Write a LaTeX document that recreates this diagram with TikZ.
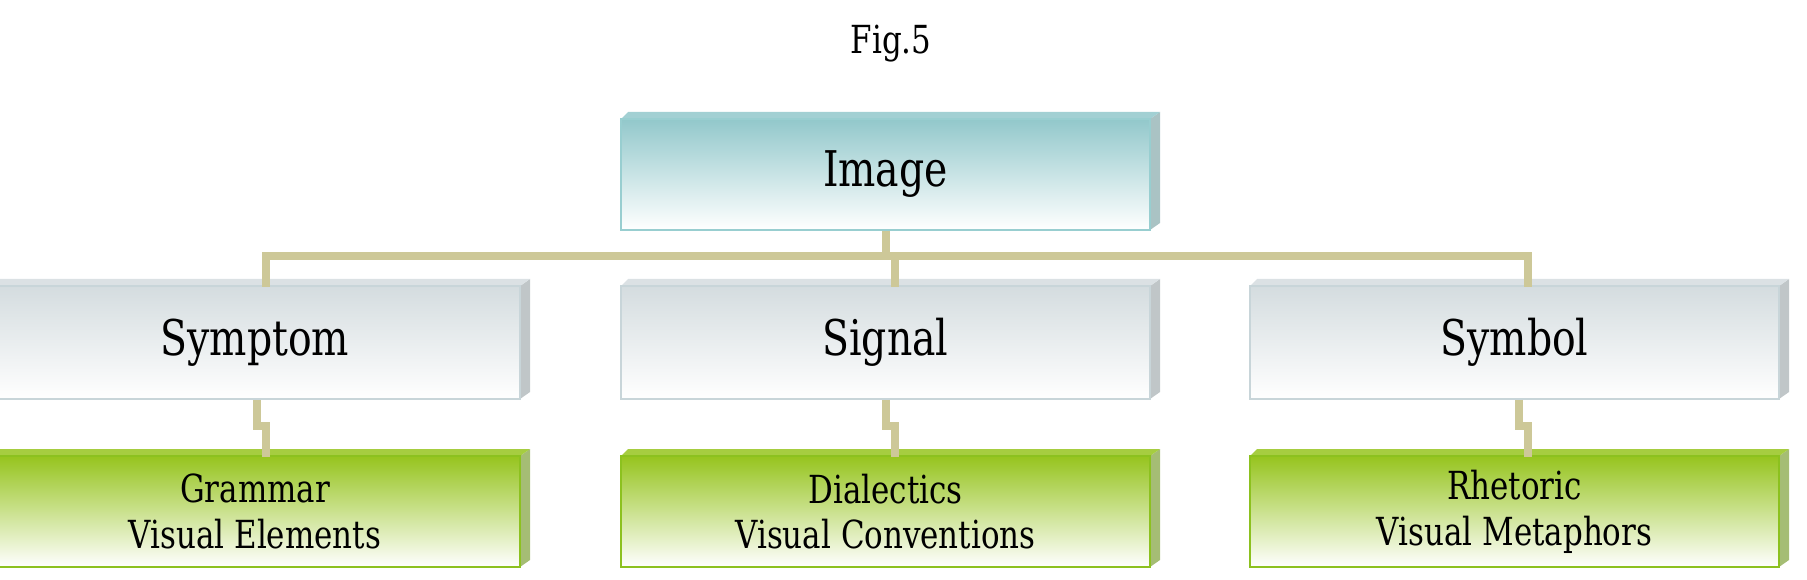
\documentclass[tikz,border=0pt]{standalone}
\usepackage{fontspec}
\setmainfont{DejaVu Serif}[FakeStretch=0.8]
\begin{document}
\begin{tikzpicture}[x=0.02cm,y=-0.02cm,
  conn/.style={draw=connc,line width=4.5pt},
  bx/.style={inner sep=0pt,line width=1.2pt,align=center,font=\fontsize{22}{26}\selectfont},
  lbl/.style={font=\fontsize{28}{32}\selectfont}]
\definecolor{connc}{RGB}{205,200,152}
\definecolor{tealt}{RGB}{146,200,203}\definecolor{tealb}{RGB}{152,206,208}
\definecolor{grayt}{RGB}{212,220,223}\definecolor{grayb}{RGB}{200,213,217}
\definecolor{grnt}{RGB}{150,196,30}\definecolor{grnb}{RGB}{140,193,31}
\useasboundingbox (0,0) rectangle (1807,580);
\newcommand{\mybox}[8]{%
  \fill[#7!75!black!60] (#4,#3)--(#4+10,#3-7)--(#4+10,#5-7)--(#4,#5)--cycle;
  \fill[#6!85] (#2,#3)--(#2+7,#3-7)--(#4+10,#3-7)--(#4,#3)--cycle;
  \node[bx,draw=#7,top color=#6,bottom color=white,minimum width={(#4-#2)*0.02cm},minimum height={(#5-#3)*0.02cm}] (#1) at ({(#2+#4)/2},{(#3+#5)/2}) {#8};}
\node[font=\fontsize{22}{26}\selectfont] (title) at (891,44) {Fig.5};
% connectors first
\coordinate (bar) at (886,256);
\mybox{img}{621}{119}{1150}{230}{tealt}{tealb}{\fontsize{28}{32}\selectfont Image}
\mybox{s1}{-10}{286}{520}{399}{grayt}{grayb}{\fontsize{28}{32}\selectfont Symptom}
\mybox{s2}{621}{286}{1150}{399}{grayt}{grayb}{\fontsize{28}{32}\selectfont Signal}
\mybox{s3}{1250}{286}{1779}{399}{grayt}{grayb}{\fontsize{28}{32}\selectfont Symbol}
\mybox{g1}{-10}{456}{520}{567}{grnt}{grnb}{Grammar\\Visual Elements}
\mybox{g2}{621}{456}{1150}{567}{grnt}{grnb}{Dialectics\\Visual Conventions}
\mybox{g3}{1250}{456}{1779}{567}{grnt}{grnb}{Rhetoric\\Visual Metaphors}
\begin{scope}[on background layer/.style={}]
\draw[conn] (886,231) -- (bar);
\draw[conn,line cap=butt] (266,287) |- (1528,256) -- (1528,287);
\draw[conn] (895,256) -- (895,287);
\draw[conn] (257,400) -- (257,426) -| (266,457);
\draw[conn] (886,400) -- (886,426) -| (895,457);
\draw[conn] (1519,400) -- (1519,426) -| (1528,457);
\end{scope}
\end{tikzpicture}
\end{document}
